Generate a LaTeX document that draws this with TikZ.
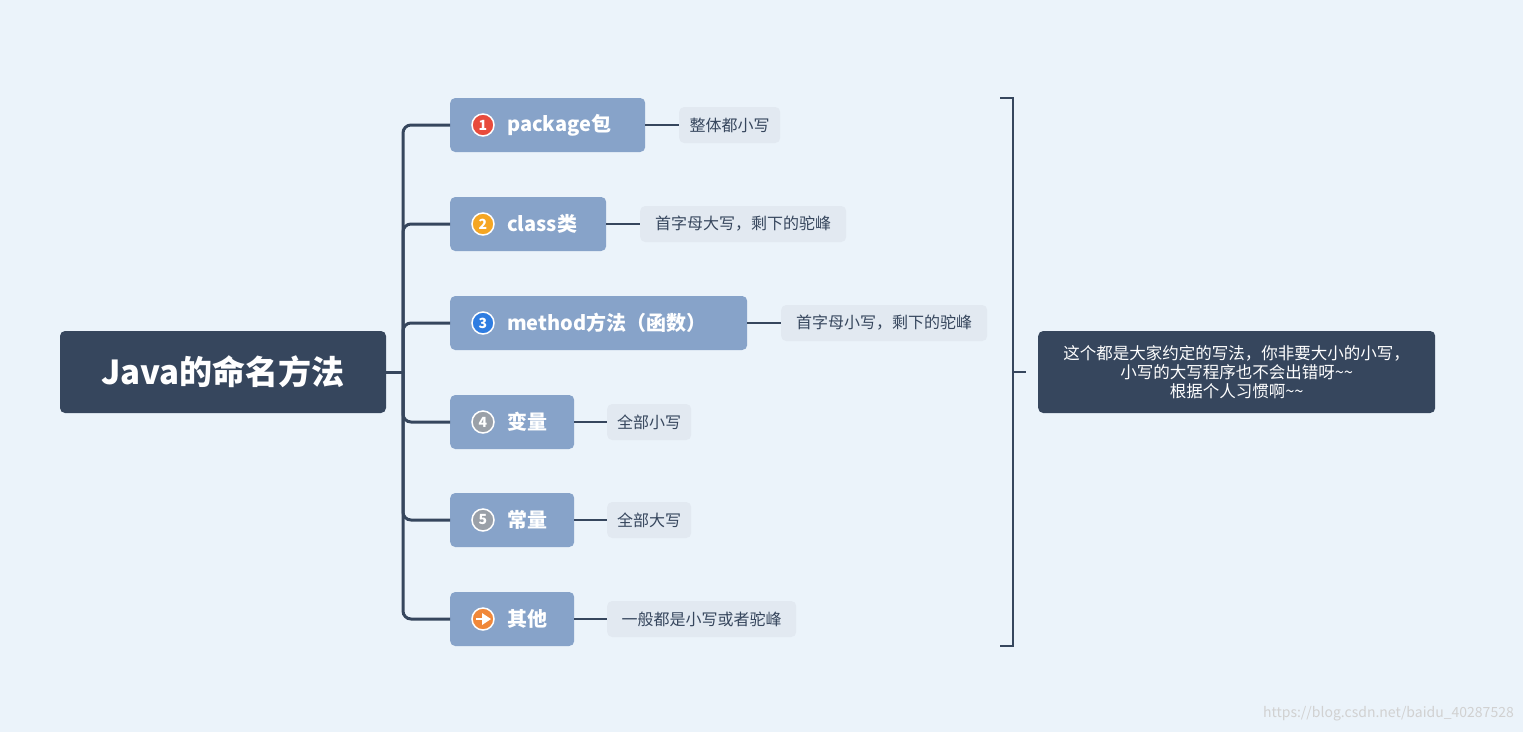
\documentclass[tikz,border=0pt]{standalone}
\usepackage{fontspec}
\setmainfont{Noto Sans CJK SC}
\usetikzlibrary{arrows.meta}
\definecolor{bg}{HTML}{EBF3FA}
\definecolor{rootc}{HTML}{36465D}
\definecolor{brc}{HTML}{87A3C9}
\definecolor{leafc}{HTML}{E2E9F1}
\definecolor{txtc}{HTML}{36465D}
\definecolor{ic1}{HTML}{E84B3C}
\definecolor{ic2}{HTML}{F5A623}
\definecolor{ic3}{HTML}{2F7DE1}
\definecolor{ic4}{HTML}{9AA0A8}
\definecolor{ic6}{HTML}{F0883A}
\begin{document}
\begin{tikzpicture}[x=1pt,y=-1pt,
  root/.style={fill=rootc,rounded corners=5pt,text=white,font=\bfseries\fontsize{33}{36}\selectfont,minimum width=326pt,minimum height=82pt,inner sep=0pt},
  branch/.style={fill=brc,rounded corners=5pt,text=white,font=\bfseries\fontsize{20}{24}\selectfont,minimum height=54pt,inner sep=0pt,anchor=west},
  leaf/.style={fill=leafc,rounded corners=5pt,text=txtc,font=\fontsize{16}{19}\selectfont,minimum height=36pt,inner sep=0pt,anchor=west},
  line/.style={draw=rootc,line width=3pt},
  ico/.style={circle,fill=#1,draw=white,line width=1.5pt,minimum size=22pt,inner sep=0pt,text=white,font=\bfseries\fontsize{14}{14}\selectfont}]
\fill[bg] (0,0) rectangle (1523,732);
\useasboundingbox (0,0) rectangle (1523,732);
\node[root] (r) at (223,372) {Java的命名方法};
\coordinate (j) at (403,372);
\draw[line] (r.east) -- (j);
\foreach \n/\y/\w/\c/\s/\t in {
 a/125/195/ic1/1/package包,
 b/224/156/ic2/2/class类,
 c/323/297/ic3/3/method方法（函数）,
 d/422/124/ic4/4/变量,
 e/520/124/ic4/5/常量}{
 \node[branch,minimum width=\w pt] (\n) at (450,\y) {};
 \node[ico=\c] (i\n) at (483,\y) {\s};
 \node[anchor=west,text=white,font=\bfseries\fontsize{20}{24}\selectfont,inner sep=0pt] (t\n) at (507,\y) {\t};
}
\node[branch,minimum width=124pt] (f) at (450,619) {};
\node[ico=ic6] (if) at (483,619) {};
\draw[white,line width=2.5pt] (476,619) -- (484,619);
\fill[white] (482,613) -- (491,619) -- (482,625) -- cycle;
\node[anchor=west,text=white,font=\bfseries\fontsize{20}{24}\selectfont,inner sep=0pt] (tf) at (507,619) {其他};
\foreach \n in {a,b,c,d,e,f}{
 \draw[line,rounded corners=8pt] (j) -- (j |- \n.west) -- (\n.west);
}
\node[leaf,minimum width=101pt] (la) at (679,125) {整体都小写};
\node[leaf,minimum width=206pt] (lb) at (640,224) {首字母大写，剩下的驼峰};
\node[leaf,minimum width=206pt] (lc) at (781,323) {首字母小写，剩下的驼峰};
\node[leaf,minimum width=84pt] (ld) at (607,422) {全部小写};
\node[leaf,minimum width=84pt] (le) at (607,520) {全部大写};
\node[leaf,minimum width=189pt] (lf) at (607,619) {一般都是小写或者驼峰};
\foreach \n in {a,b,c,d,e,f}{\draw[draw=rootc,line width=2pt] (\n.east) -- (l\n.west);}
\coordinate (bt) at (1000,98); \coordinate (bb) at (1000,646);
\coordinate (bm) at (1026,372);
\draw[draw=rootc,line width=2pt] (bt) -- (1013,98) -- (1013,646) -- (bb);
\draw[draw=rootc,line width=2pt] (1013,372) -- (bm);
\node[fill=rootc,rounded corners=5pt,text=white,font=\fontsize{16.5}{19}\selectfont,minimum width=397pt,minimum height=82pt,align=center,anchor=west,inner sep=0pt] (note) at (1038,372) {这个都是大家约定的写法，你非要大小的小写，\\小写的大写程序也不会出错呀\textasciitilde\textasciitilde\\根据个人习惯啊\textasciitilde\textasciitilde};
\node[anchor=east,text=black!18,font=\fontsize{14}{16}\selectfont,inner sep=0pt] (wm) at (1514,714) {https://blog.csdn.net/baidu\_40287528};
\end{tikzpicture}
\end{document}
